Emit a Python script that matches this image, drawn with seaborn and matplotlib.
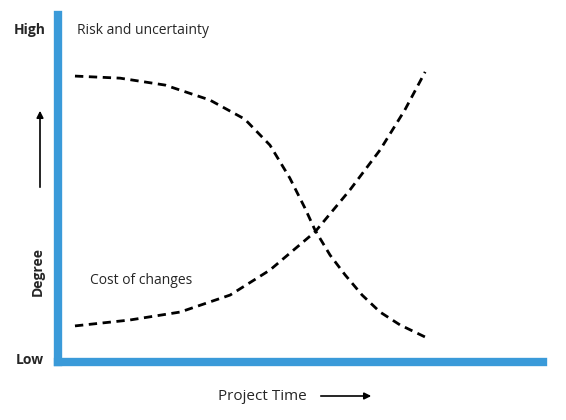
import matplotlib
matplotlib.use("Agg")
import matplotlib.pyplot as plt
import seaborn as sns
import pandas as pd

risk_x = [0.35, 1.28, 2.21, 3.13, 3.85, 4.37, 4.78, 5.09, 5.30, 5.61, 5.92, 6.27, 6.64, 7.05, 7.57]
risk_y = [8.24, 8.18, 7.98, 7.55, 7.00, 6.25, 5.30, 4.44, 3.80, 3.08, 2.51, 1.93, 1.44, 1.07, 0.72]
cost_x = [0.35, 1.48, 2.52, 3.55, 4.37, 5.30, 6.02, 6.64, 7.15, 7.57]
cost_y = [1.04, 1.21, 1.44, 1.93, 2.65, 3.75, 4.96, 6.11, 7.26, 8.36]

sns.set_style("white")
plt.rcParams['font.family'] = ['Open Sans', 'DejaVu Sans']
W, H = 566, 420
fig = plt.figure(figsize=(W/100, H/100), dpi=100)
ax = fig.add_axes([58/W, 1-362/H, (543-58)/W, (362-15)/H])
ax.set_xlim(0, 10); ax.set_ylim(0, 10)
df = pd.concat([pd.DataFrame({"x": risk_x, "y": risk_y, "s": "risk"}),
                pd.DataFrame({"x": cost_x, "y": cost_y, "s": "cost"})])
sns.lineplot(data=df, x="x", y="y", units="s", estimator=None, color="black",
             linestyle=(0, (3, 2)), linewidth=2, ax=ax, sort=False)
for s in ["top", "right"]:
    ax.spines[s].set_visible(False)
for s in ["left", "bottom"]:
    ax.spines[s].set_color("#3a9ad9"); ax.spines[s].set_linewidth(6)
ax.set_xticks([]); ax.set_yticks([]); ax.set_xlabel(""); ax.set_ylabel("")

def ft(px, py, s, **kw):
    fig.text(px/W, 1-py/H, s, **kw)
ft(30, 30, "High", fontsize=10, fontweight="bold", ha="center", va="center")
ft(30, 360, "Low", fontsize=10, fontweight="bold", ha="center", va="center")
ft(38, 272, "Degree", fontsize=10, fontweight="bold", rotation=90, ha="center", va="center")
ft(77, 30, "Risk and uncertainty", fontsize=10, ha="left", va="center")
ft(90, 280, "Cost of changes", fontsize=10, ha="left", va="center")
ft(262, 396, "Project Time", fontsize=11, ha="center", va="center")
fig.add_artist(matplotlib.patches.FancyArrowPatch((40/W, 1-190/H), (40/W, 1-108/H),
               transform=fig.transFigure, arrowstyle="-|>", mutation_scale=10, color="black", lw=1.2))
fig.add_artist(matplotlib.patches.FancyArrowPatch((318/W, 1-396/H), (374/W, 1-396/H),
               transform=fig.transFigure, arrowstyle="-|>", mutation_scale=10, color="black", lw=1.2))
fig.savefig("out.png", dpi=100)
